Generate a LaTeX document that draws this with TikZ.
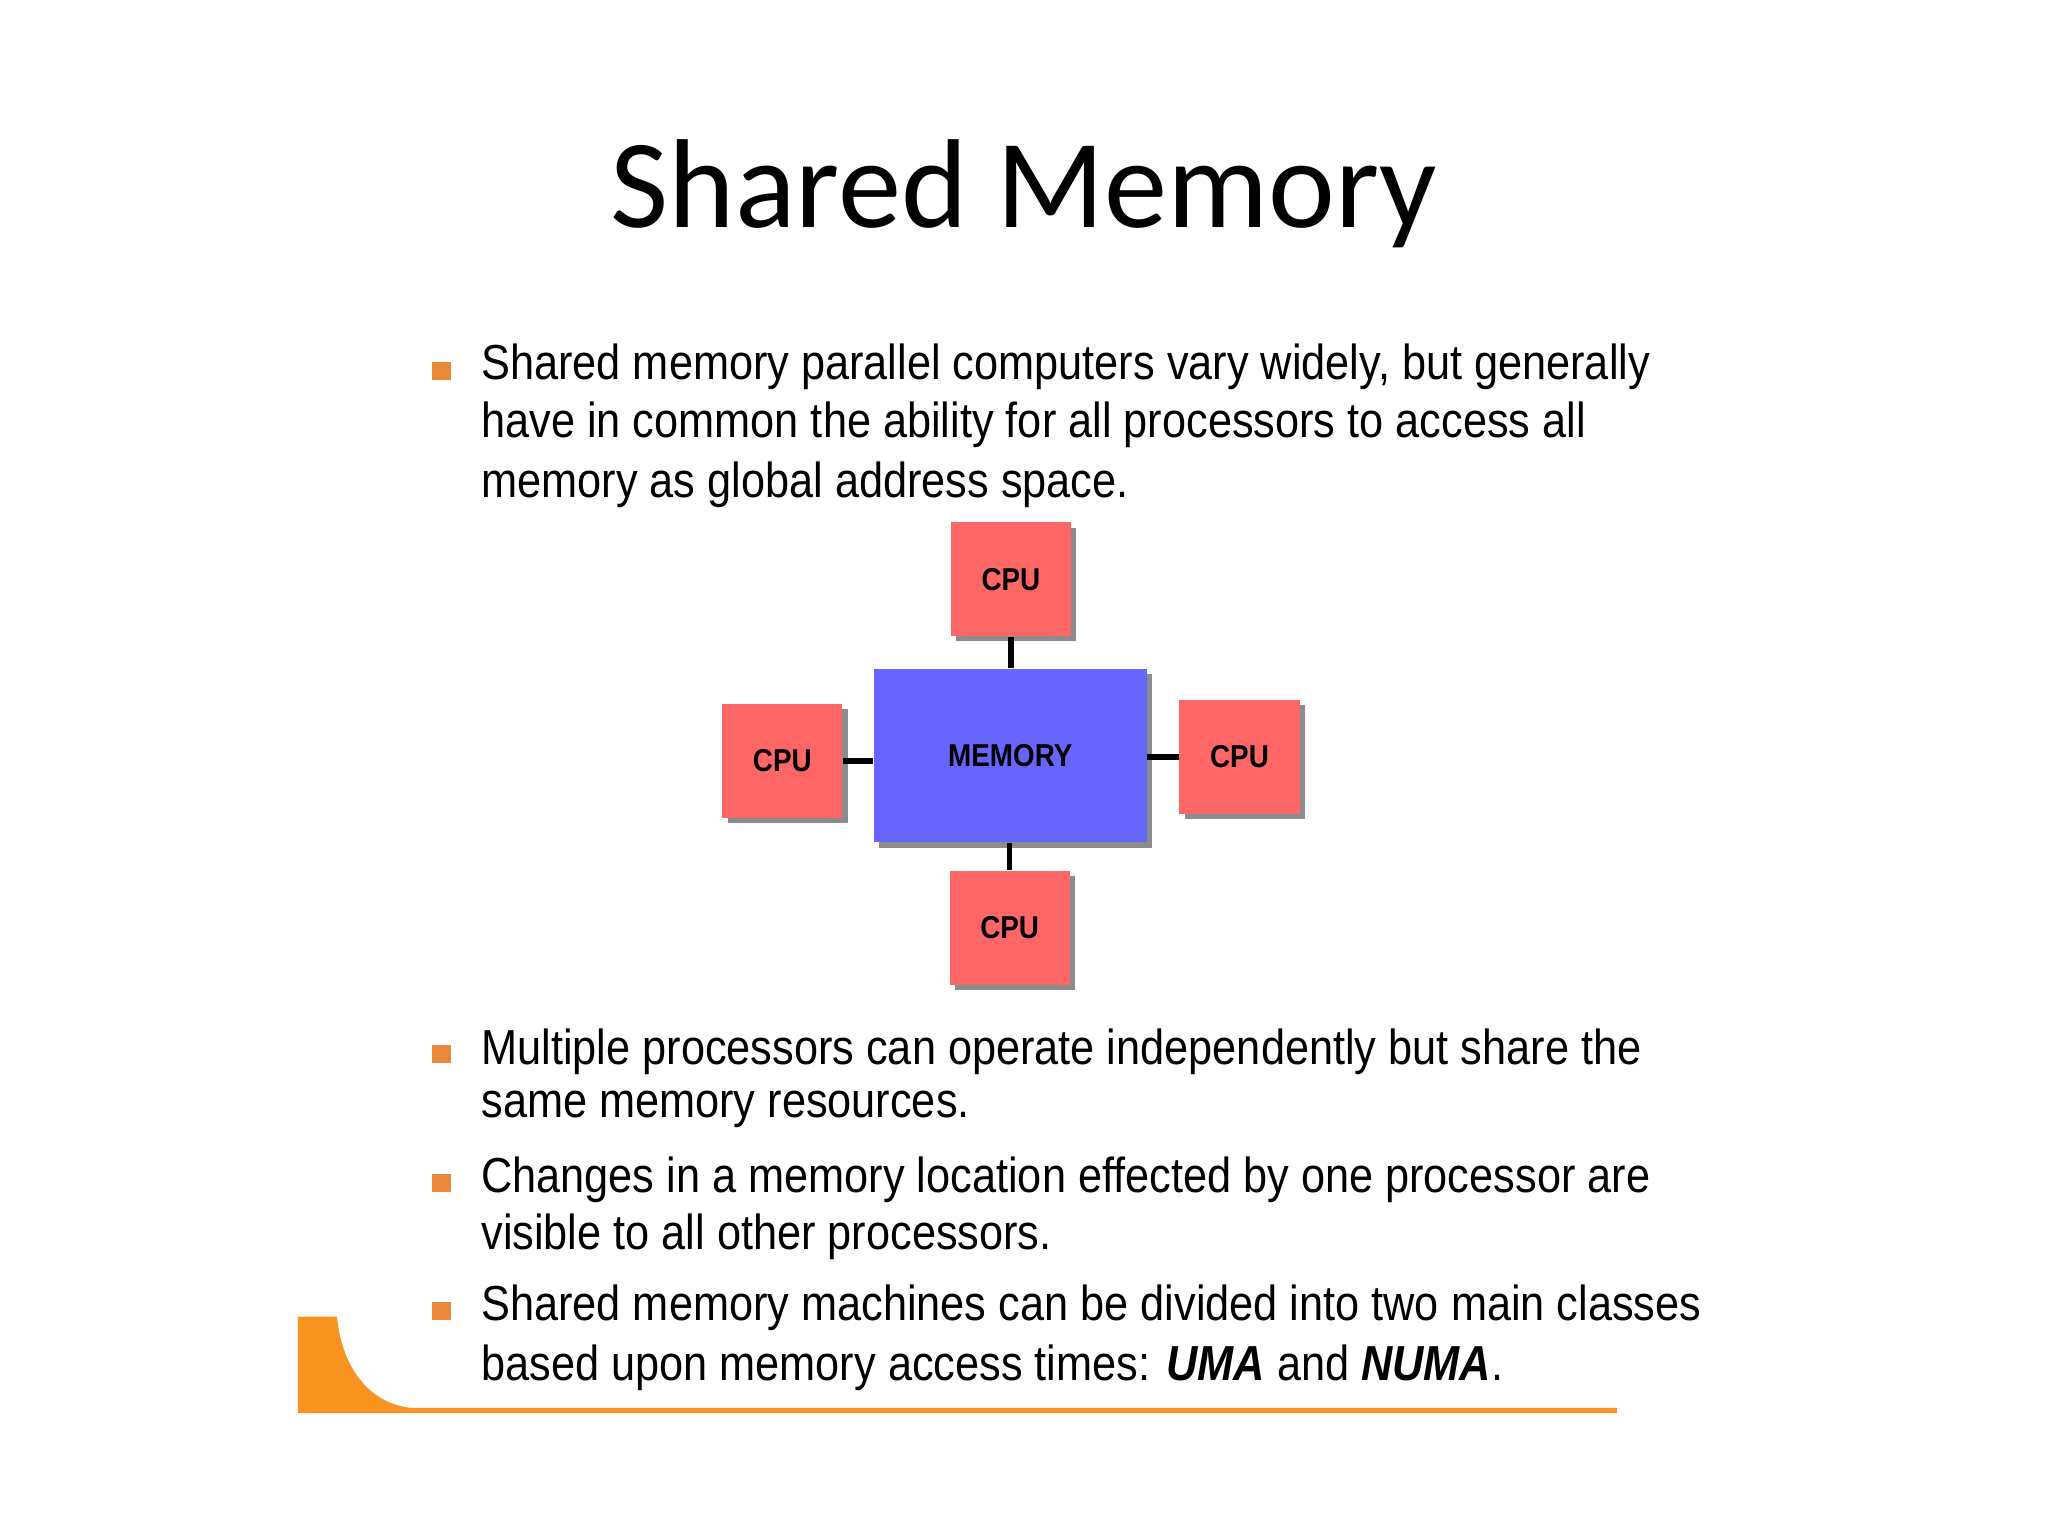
\documentclass[tikz,border=0pt]{standalone}
\usepackage{fontspec}
\setmainfont{Carlito}
\newfontfamily\bodyf[FakeStretch=0.88]{Liberation Sans}
\usetikzlibrary{shadows}
\definecolor{cpured}{HTML}{FF6666}
\definecolor{memblue}{HTML}{6666FF}
\definecolor{orng}{HTML}{F7931E}
\definecolor{bull}{HTML}{E8883A}
\newlength\pxu \setlength\pxu{0.01306cm}
\tikzset{
 box/.style={draw=none,inner sep=0pt,font=\bodyf\bfseries\fontsize{9}{9}\selectfont,drop shadow={shadow xshift=1.5pt,shadow yshift=-1.5pt,fill=black!45,opacity=1}},
 cpubox/.style={box,fill=cpured,minimum width=92\pxu,minimum height=87\pxu},
 line/.style={anchor=west,inner sep=0pt,font=\bodyf\fontsize{14}{14}\selectfont},
 bul/.style={fill=bull,minimum size=14\pxu,inner sep=0pt},
 conn/.style={line width=1.6pt}
}
\begin{document}
\begin{tikzpicture}[x=0.01306cm,y=-0.01306cm]
\useasboundingbox (0,0) rectangle (1568,1176);
\node[font=\fontsize{36}{36}\selectfont] (title) at (784,148) {Shared Memory};
% bullets
\node[bul] (b1) at (338,284) {};
\node[line] (t1a) at (368,281) {Shared memory parallel computers vary widely, but generally};
\node[line] (t1b) at (368,325) {have in common the ability for all processors to access all};
\node[line] (t1c) at (368,371) {memory as global address space.};
\node[bul] (b2) at (338,807) {};
\node[line] (t2a) at (368,805) {Multiple processors can operate independently but share the};
\node[line] (t2b) at (368,849) {same memory resources.};
\node[bul] (b3) at (338,906) {};
\node[line] (t3a) at (368,903) {Changes in a memory location effected by one processor are};
\node[line] (t3b) at (368,947) {visible to all other processors.};
\node[bul] (b4) at (338,1004) {};
\node[line] (t4a) at (368,1001) {Shared memory machines can be divided into two main classes};
\node[line] (t4b) at (368,1047) {based upon memory access times: \textbf{\textit{UMA}} and \textbf{\textit{NUMA}}.};
% diagram
\node[box,fill=memblue,minimum width=209\pxu,minimum height=133\pxu] (mem) at (773.5,578.5) {MEMORY};
\node[cpubox] (ct) at (774,443.5) {CPU};
\node[cpubox] (cl) at (599,582.5) {CPU};
\node[cpubox] (cr) at (949,579.5) {CPU};
\node[cpubox] (cb) at (773,710.5) {CPU};
\draw[conn] (ct.south) -- (ct.south |- mem.north);
\draw[conn] (cb.north) -- (cb.north |- mem.south);
\draw[conn] (cl.east) -- (cl.east -| mem.west);
\draw[conn] (cr.west) -- (cr.west -| mem.east);
% orange corner
\fill[orng] (228,1008) -- (258,1008) .. controls (262,1050) and (285,1075) .. (315,1078) -- (1238,1078) -- (1238,1082) -- (228,1082) -- cycle;
\end{tikzpicture}
\end{document}
